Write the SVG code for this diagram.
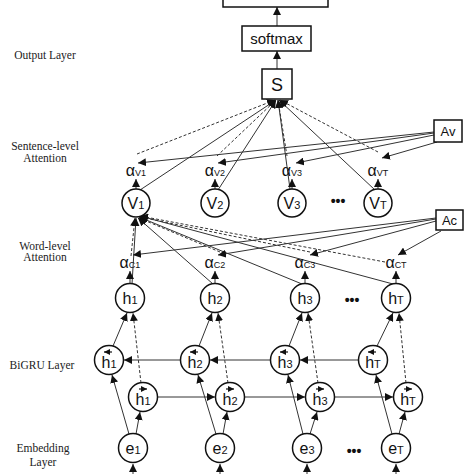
<svg xmlns="http://www.w3.org/2000/svg" width="474" height="474" viewBox="0 0 474 474">
<style>
.bg{fill:#fff}
.box{fill:#fff;stroke:#111;stroke-width:1.5}
.node{fill:#fff;stroke:#111;stroke-width:1.5}
.ln{fill:none;stroke:#333;stroke-width:1}
.dl{fill:none;stroke:#333;stroke-width:1;stroke-dasharray:3,2}
.acc{fill:none;stroke:#111;stroke-width:1.2}
.t{font-family:"Liberation Sans","Open Sans",Arial,sans-serif;fill:#111;text-anchor:middle}
.lab{font-family:"Liberation Serif","Times New Roman",serif;font-size:11.5px;fill:#222;text-anchor:middle}
.al{font-family:"Liberation Sans",Arial,sans-serif;fill:#111;text-anchor:middle;font-size:16px}
.sub{font-size:9px}
.dots{font-family:"Liberation Sans",Arial,sans-serif;font-size:14px;font-weight:bold;fill:#111;text-anchor:middle}
</style>
<defs>
<marker id="ah" markerUnits="userSpaceOnUse" markerWidth="8" markerHeight="8" refX="8" refY="4" orient="auto">
<path d="M0,0 L8,4 L0,8 z" fill="#111"/>
</marker>
<marker id="sa" markerUnits="userSpaceOnUse" markerWidth="6" markerHeight="6" refX="6" refY="3" orient="auto">
<path d="M0,0 L6,3 L0,6 z" fill="#111"/>
</marker>
</defs>
<rect class="bg" x="0" y="0" width="474" height="474"/>

<g id="layer-labels">
<text class="lab" x="45" y="59">Output Layer</text>
<text class="lab" x="45" y="150">Sentence-level</text>
<text class="lab" x="45" y="162">Attention</text>
<text class="lab" x="45" y="250">Word-level</text>
<text class="lab" x="45" y="261">Attention</text>
<text class="lab" x="42" y="369">BiGRU Layer</text>
<text class="lab" x="43" y="452">Embedding</text>
<text class="lab" x="43" y="466">Layer</text>
</g>

<g id="connectors">
<line class="ln" x1="277" y1="69" x2="277" y2="51" marker-end="url(#ah)"/>
<line class="ln" x1="277" y1="26" x2="277" y2="7" marker-end="url(#ah)"/>
<line class="ln" x1="140" y1="190" x2="276" y2="100" marker-end="url(#ah)"/>
<line class="dl" x1="137" y1="154" x2="275" y2="100" marker-end="url(#ah)"/>
<line class="ln" x1="218" y1="190" x2="276" y2="100" marker-end="url(#ah)"/>
<line class="dl" x1="217" y1="156" x2="276" y2="100" marker-end="url(#ah)"/>
<line class="ln" x1="290" y1="189" x2="278" y2="100" marker-end="url(#ah)"/>
<line class="dl" x1="287" y1="156" x2="278" y2="100" marker-end="url(#ah)"/>
<line class="ln" x1="375" y1="190" x2="279" y2="100" marker-end="url(#ah)"/>
<line class="dl" x1="378" y1="152" x2="280" y2="100" marker-end="url(#ah)"/>
<line class="ln" x1="434" y1="132" x2="138" y2="163" marker-end="url(#ah)"/>
<line class="ln" x1="434" y1="133" x2="218" y2="163" marker-end="url(#ah)"/>
<line class="ln" x1="434" y1="135" x2="296" y2="163" marker-end="url(#ah)"/>
<line class="ln" x1="437" y1="142" x2="382" y2="158" marker-end="url(#ah)"/>
<line class="ln" x1="136" y1="189" x2="136" y2="179" marker-end="url(#ah)"/>
<line class="ln" x1="215" y1="189" x2="215" y2="179" marker-end="url(#ah)"/>
<line class="ln" x1="292" y1="189" x2="292" y2="179" marker-end="url(#ah)"/>
<line class="ln" x1="378" y1="189" x2="378" y2="179" marker-end="url(#ah)"/>
<line class="ln" x1="132" y1="284" x2="136" y2="218" marker-end="url(#ah)"/>
<line class="dl" x1="131" y1="256" x2="135" y2="218" marker-end="url(#ah)"/>
<line class="ln" x1="213" y1="284" x2="138" y2="218" marker-end="url(#ah)"/>
<line class="dl" x1="220" y1="252" x2="139" y2="218" marker-end="url(#ah)"/>
<line class="ln" x1="302" y1="284" x2="139" y2="217" marker-end="url(#ah)"/>
<line class="dl" x1="310" y1="252" x2="140" y2="217" marker-end="url(#ah)"/>
<line class="ln" x1="393" y1="284" x2="140" y2="216" marker-end="url(#ah)"/>
<line class="dl" x1="385" y1="262" x2="140" y2="216" marker-end="url(#ah)"/>
<line class="ln" x1="436" y1="218" x2="133" y2="255" marker-end="url(#ah)"/>
<line class="ln" x1="436" y1="219" x2="218" y2="255" marker-end="url(#ah)"/>
<line class="ln" x1="436" y1="221" x2="310" y2="255" marker-end="url(#ah)"/>
<line class="ln" x1="441" y1="231" x2="398" y2="255" marker-end="url(#ah)"/>
<line class="ln" x1="130" y1="283" x2="130" y2="271" marker-end="url(#ah)"/>
<line class="ln" x1="215" y1="283" x2="215" y2="271" marker-end="url(#ah)"/>
<line class="ln" x1="305" y1="283" x2="305" y2="271" marker-end="url(#ah)"/>
<line class="ln" x1="396" y1="283" x2="396" y2="271" marker-end="url(#ah)"/>
<line class="ln" x1="113" y1="346" x2="127" y2="313" marker-end="url(#ah)"/>
<line class="ln" x1="199" y1="346" x2="212" y2="313" marker-end="url(#ah)"/>
<line class="ln" x1="289" y1="346" x2="302" y2="313" marker-end="url(#ah)"/>
<line class="ln" x1="377" y1="346" x2="393" y2="313" marker-end="url(#ah)"/>
<line class="dl" x1="141" y1="383" x2="133" y2="313" marker-end="url(#ah)"/>
<line class="dl" x1="228" y1="383" x2="218" y2="313" marker-end="url(#ah)"/>
<line class="dl" x1="318" y1="383" x2="308" y2="313" marker-end="url(#ah)"/>
<line class="dl" x1="406" y1="383" x2="399" y2="313" marker-end="url(#ah)"/>
<line class="ln" x1="358" y1="360" x2="300" y2="360" marker-end="url(#ah)"/>
<line class="ln" x1="270" y1="360" x2="210" y2="360" marker-end="url(#ah)"/>
<line class="ln" x1="180" y1="360" x2="124" y2="360" marker-end="url(#ah)"/>
<line class="ln" x1="158" y1="397" x2="215" y2="397" marker-end="url(#ah)"/>
<line class="ln" x1="245" y1="397" x2="305" y2="397" marker-end="url(#ah)"/>
<line class="ln" x1="335" y1="397" x2="393" y2="397" marker-end="url(#ah)"/>
<line class="ln" x1="129" y1="434" x2="112" y2="375" marker-end="url(#ah)"/>
<line class="ln" x1="216" y1="434" x2="198" y2="375" marker-end="url(#ah)"/>
<line class="ln" x1="303" y1="434" x2="288" y2="375" marker-end="url(#ah)"/>
<line class="ln" x1="392" y1="434" x2="376" y2="375" marker-end="url(#ah)"/>
<line class="ln" x1="136" y1="434" x2="140" y2="412" marker-end="url(#ah)"/>
<line class="ln" x1="223" y1="434" x2="227" y2="412" marker-end="url(#ah)"/>
<line class="ln" x1="310" y1="434" x2="317" y2="412" marker-end="url(#ah)"/>
<line class="ln" x1="399" y1="434" x2="405" y2="412" marker-end="url(#ah)"/>
<line class="ln" x1="133" y1="480" x2="133" y2="464" marker-end="url(#ah)"/>
<line class="ln" x1="220" y1="480" x2="220" y2="464" marker-end="url(#ah)"/>
<line class="ln" x1="307" y1="480" x2="307" y2="464" marker-end="url(#ah)"/>
<line class="ln" x1="396" y1="480" x2="396" y2="464" marker-end="url(#ah)"/>
</g>

<g id="top-box"><rect class="box" x="223" y="-10" width="105" height="17"/></g>
<g id="softmax"><rect class="box" x="242" y="26" width="69" height="25"/><text class="t" x="276.5" y="43.5" font-size="15">softmax</text></g>
<g id="S"><rect class="box" x="262" y="69" width="30" height="30"/><text class="t" x="277" y="90.5" font-size="18">S</text></g>
<g id="Av"><rect class="box" x="434" y="120" width="28" height="22"/><text class="t" x="448" y="136" font-size="13">Av</text></g>
<g id="Ac"><rect class="box" x="436" y="210" width="27" height="20"/><text class="t" x="449.5" y="225" font-size="13">Ac</text></g>

<g id="alpha-v1"><text class="al" x="136" y="176">α<tspan class="sub">V1</tspan></text></g>
<g id="alpha-v2"><text class="al" x="215" y="176">α<tspan class="sub">V2</tspan></text></g>
<g id="alpha-v3"><text class="al" x="292" y="176">α<tspan class="sub">V3</tspan></text></g>
<g id="alpha-vT"><text class="al" x="378" y="176">α<tspan class="sub">VT</tspan></text></g>

<g id="V1"><circle class="node" cx="136" cy="203" r="14"/><text class="t" x="136" y="209" font-size="16">V<tspan font-size="11">1</tspan></text></g>
<g id="V2"><circle class="node" cx="215" cy="203" r="14"/><text class="t" x="215" y="209" font-size="16">V<tspan font-size="11">2</tspan></text></g>
<g id="V3"><circle class="node" cx="292" cy="203" r="14"/><text class="t" x="292" y="209" font-size="16">V<tspan font-size="11">3</tspan></text></g>
<g id="VT"><circle class="node" cx="378" cy="203" r="14"/><text class="t" x="378" y="209" font-size="16">V<tspan font-size="11">T</tspan></text></g>
<text class="dots" x="338" y="206">•••</text>

<g id="alpha-c1"><text class="al" x="130" y="268">α<tspan class="sub">C1</tspan></text></g>
<g id="alpha-c2"><text class="al" x="215" y="268">α<tspan class="sub">C2</tspan></text></g>
<g id="alpha-c3"><text class="al" x="305" y="268">α<tspan class="sub">C3</tspan></text></g>
<g id="alpha-cT"><text class="al" x="396" y="268">α<tspan class="sub">CT</tspan></text></g>

<g id="h1"><circle class="node" cx="130" cy="298" r="14.5"/><text class="t" x="130" y="304" font-size="16">h<tspan font-size="11">1</tspan></text></g>
<g id="h2"><circle class="node" cx="215" cy="298" r="14.5"/><text class="t" x="215" y="304" font-size="16">h<tspan font-size="11">2</tspan></text></g>
<g id="h3"><circle class="node" cx="305" cy="298" r="14.5"/><text class="t" x="305" y="304" font-size="16">h<tspan font-size="11">3</tspan></text></g>
<g id="hT"><circle class="node" cx="396" cy="298" r="14.5"/><text class="t" x="396" y="304" font-size="16">h<tspan font-size="11">T</tspan></text></g>
<text class="dots" x="352" y="305">•••</text>

<g id="hb1"><circle class="node" cx="109" cy="360" r="14.5"/><line class="acc" x1="112" y1="352" x2="104" y2="352" marker-end="url(#sa)"/><text class="t" x="109" y="368" font-size="16">h<tspan font-size="11">1</tspan></text></g>
<g id="hb2"><circle class="node" cx="195" cy="360" r="14.5"/><line class="acc" x1="198" y1="352" x2="190" y2="352" marker-end="url(#sa)"/><text class="t" x="195" y="368" font-size="16">h<tspan font-size="11">2</tspan></text></g>
<g id="hb3"><circle class="node" cx="285" cy="360" r="14.5"/><line class="acc" x1="288" y1="352" x2="280" y2="352" marker-end="url(#sa)"/><text class="t" x="285" y="368" font-size="16">h<tspan font-size="11">3</tspan></text></g>
<g id="hbT"><circle class="node" cx="373" cy="360" r="14.5"/><line class="acc" x1="376" y1="352" x2="368" y2="352" marker-end="url(#sa)"/><text class="t" x="373" y="368" font-size="16">h<tspan font-size="11">T</tspan></text></g>

<g id="hf1"><circle class="node" cx="143" cy="397" r="14.5"/><line class="acc" x1="139" y1="389" x2="147" y2="389" marker-end="url(#sa)"/><text class="t" x="143" y="405" font-size="16">h<tspan font-size="11">1</tspan></text></g>
<g id="hf2"><circle class="node" cx="230" cy="397" r="14.5"/><line class="acc" x1="226" y1="389" x2="234" y2="389" marker-end="url(#sa)"/><text class="t" x="230" y="405" font-size="16">h<tspan font-size="11">2</tspan></text></g>
<g id="hf3"><circle class="node" cx="320" cy="397" r="14.5"/><line class="acc" x1="316" y1="389" x2="324" y2="389" marker-end="url(#sa)"/><text class="t" x="320" y="405" font-size="16">h<tspan font-size="11">3</tspan></text></g>
<g id="hfT"><circle class="node" cx="408" cy="397" r="14.5"/><line class="acc" x1="404" y1="389" x2="412" y2="389" marker-end="url(#sa)"/><text class="t" x="408" y="405" font-size="16">h<tspan font-size="11">T</tspan></text></g>

<g id="e1"><circle class="node" cx="133" cy="448" r="14.5"/><text class="t" x="133" y="454" font-size="16">e<tspan font-size="11">1</tspan></text></g>
<g id="e2"><circle class="node" cx="220" cy="448" r="14.5"/><text class="t" x="220" y="454" font-size="16">e<tspan font-size="11">2</tspan></text></g>
<g id="e3"><circle class="node" cx="307" cy="448" r="14.5"/><text class="t" x="307" y="454" font-size="16">e<tspan font-size="11">3</tspan></text></g>
<g id="eT"><circle class="node" cx="396" cy="448" r="14.5"/><text class="t" x="396" y="454" font-size="16">e<tspan font-size="11">T</tspan></text></g>
<text class="dots" x="354" y="456">•••</text>
</svg>
